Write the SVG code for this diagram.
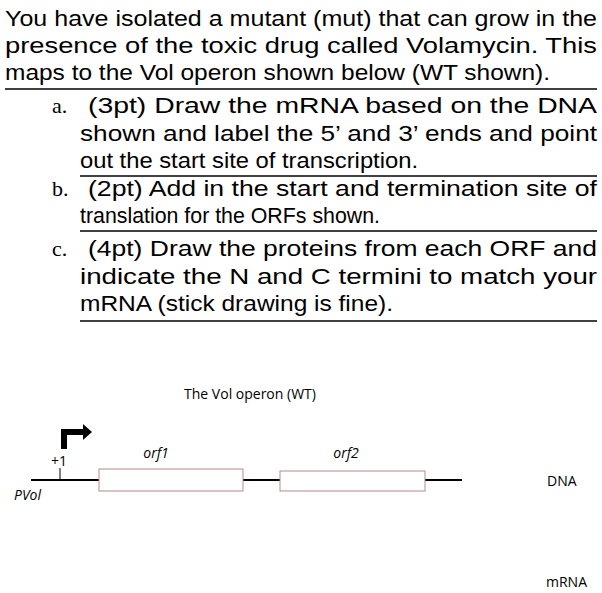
<svg xmlns="http://www.w3.org/2000/svg" width="602" height="593" viewBox="0 0 602 593">
<style>
.q{font-family:"Liberation Sans",Arial,sans-serif;font-size:22px;fill:#000}
.l{font-family:"Liberation Serif",serif;font-size:22px}
.u{stroke:#000;stroke-width:1.5}
.s{font-family:"Open Sans","Noto Sans",sans-serif;font-size:14px;fill:#000}
.i{font-style:italic}
.box{fill:#fff;stroke:#b58a8a;stroke-width:1}
</style>
<rect width="602" height="593" fill="#fff"/>
<g id="question" xml:space="preserve">
<text class="q" x="5" y="26" textLength="592" lengthAdjust="spacingAndGlyphs">You have isolated a mutant (mut) that can grow in the</text>
<text class="q" x="5" y="53" textLength="592" lengthAdjust="spacingAndGlyphs">presence  of  the  toxic  drug  called  Volamycin.   This</text>
<text class="q" x="5" y="80" textLength="545" lengthAdjust="spacingAndGlyphs">maps to the Vol operon shown below (WT shown).</text>
<line class="u" x1="5" y1="89" x2="597" y2="89"/>
<text class="l" x="52" y="113">a.</text>
<text class="q" x="88" y="113" textLength="509" lengthAdjust="spacingAndGlyphs">(3pt)  Draw   the   mRNA   based   on   the   DNA</text>
<text class="q" x="80" y="141" textLength="517" lengthAdjust="spacingAndGlyphs">shown  and  label  the  5’  and  3’  ends  and  point</text>
<text class="q" x="80" y="168" textLength="338" lengthAdjust="spacingAndGlyphs">out the start site of transcription.</text>
<line class="u" x1="80" y1="176" x2="597" y2="176"/>
<text class="l" x="52" y="196">b.</text>
<text class="q" x="88" y="196" textLength="509" lengthAdjust="spacingAndGlyphs">(2pt)  Add  in  the  start  and  termination  site  of</text>
<text class="q" x="80" y="223" textLength="300" lengthAdjust="spacingAndGlyphs">translation for the ORFs shown.</text>
<line class="u" x1="80" y1="231" x2="597" y2="231"/>
<text class="l" x="52" y="256">c.</text>
<text class="q" x="88" y="256" textLength="509" lengthAdjust="spacingAndGlyphs">(4pt)  Draw  the  proteins  from  each  ORF  and</text>
<text class="q" x="80" y="284" textLength="517" lengthAdjust="spacingAndGlyphs">indicate   the   N   and   C   termini   to   match   your</text>
<text class="q" x="80" y="311" textLength="313" lengthAdjust="spacingAndGlyphs">mRNA (stick drawing is fine).</text>
<line class="u" x1="80" y1="321" x2="597" y2="321"/>
</g>
<text class="s" x="250" y="399" text-anchor="middle">The Vol operon (WT)</text>
<g id="connectors">
<line x1="31" y1="480" x2="462" y2="480" stroke="#000" stroke-width="2"/>
<line x1="60" y1="468" x2="60" y2="481" stroke="#000" stroke-width="1"/>
<path d="M64,449 V432 H84" fill="none" stroke="#000" stroke-width="6"/>
<polygon points="83,424 92,432 83,440" fill="#000"/>
</g>
<g id="orf1"><rect class="box" x="99" y="469" width="144" height="22"/><text class="s i" x="156" y="458" text-anchor="middle">orf1</text></g>
<g id="orf2"><rect class="box" x="280" y="471" width="145" height="20"/><text class="s i" x="346" y="458" text-anchor="middle">orf2</text></g>
<text class="s" x="59" y="466" text-anchor="middle" font-size="13">+1</text>
<text class="s i" x="14" y="500">PVol</text>
<text class="s" x="547" y="486">DNA</text>
<text class="s" x="546" y="587">mRNA</text>
</svg>
